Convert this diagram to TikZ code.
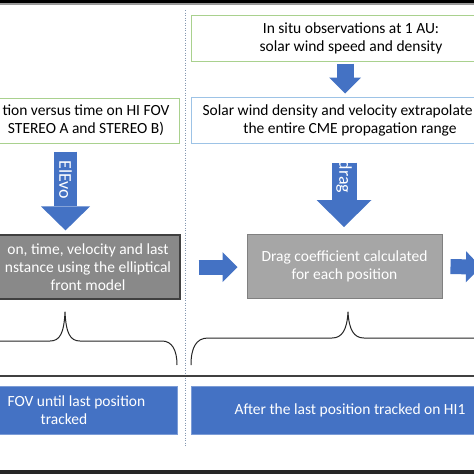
\documentclass[tikz,border=0pt]{standalone}
\usepackage{fontspec}
\setmainfont{Carlito}
\usetikzlibrary{arrows.meta,positioning,calc}
\definecolor{boxblue}{RGB}{68,114,196}
\definecolor{edgegreen}{RGB}{169,209,142}
\definecolor{edgeblue}{RGB}{157,195,230}
\definecolor{darkgrey}{RGB}{137,137,137}
\definecolor{lightgrey}{RGB}{166,166,166}
\definecolor{sepline}{RGB}{132,151,176}
\tikzset{
  txt/.style={font=\fontsize{15.5}{18}\selectfont, align=center, inner sep=0pt},
  greenbox/.style={txt, draw=edgegreen, line width=1pt, fill=white},
  bluebox/.style={txt, draw=edgeblue, line width=1pt, fill=white},
  greybox/.style={txt, text=white, fill=lightgrey, draw=black!50, line width=1pt},
  darkbox/.style={txt, text=white, fill=darkgrey, draw=black!75, line width=1.2pt},
  stagebox/.style={txt, text=white, fill=boxblue, draw=boxblue!70!white, line width=0.8pt},
  fatarrow/.style n args={3}{draw=boxblue, line width=#1,
    -{Triangle[length=#2, width=#3, line width=0pt]}},
  arrowlbl/.style={text=white, font=\fontsize{18}{18}\selectfont, inner sep=0pt, rotate=-90},
  bracepen/.style={black!85, line width=1pt, line join=round},
}
\begin{document}
\begin{tikzpicture}[x=1pt, y=-1pt]
    \useasboundingbox (0,0) rectangle (474,474);
    \fill[white] (0,0) rectangle (474,474);
    \clip (0,0) rectangle (474,474);
    % frame lines top and bottom
    \draw[black!40, line width=2pt] (0,4) -- (474,4);
    \draw[black, line width=3pt] (0,1.5) -- (474,1.5);
    \draw[black!85, line width=4.5pt] (0,472) -- (474,472);
    % separator between the two phases
    \draw[sepline, line width=0.8pt, dash pattern=on 1.2pt off 1.3pt] (185,10) -- (185,446);
    % input boxes
    \node[greenbox, minimum width=320pt, minimum height=46pt] (obs) at (351,38)
      {In situ observations at 1 AU:\\solar wind speed and density};
    \node[greenbox, minimum width=186pt, minimum height=45pt] (hifov) at (86,120.5)
      {tion versus time on HI FOV\\STEREO A and STEREO B)};
    \node[bluebox, minimum width=318pt, minimum height=46pt] (extrap) at (350,120)
      {Solar wind density and velocity extrapolate\hphantom{d to}\\the entire CME propagation range};
    % model boxes
    \node[darkbox, minimum width=184pt, minimum height=64pt] (elliptic) at (88,267)
      {on, time, velocity and last\\nstance using the elliptical\\front model};
    \node[greybox, minimum width=195pt, minimum height=64pt] (dragcoef) at (344.5,266.5)
      {Drag coefficient calculated\\for each position};
    \coordinate (offright) at (481,267);
    % block arrows
    \draw[fatarrow={17pt}{16pt}{32pt}, shorten <=2pt, shorten >=3pt]
      ([xshift=-6pt]obs.south) -- ([xshift=-6pt]obs.south |- extrap.north);
    \draw[fatarrow={23pt}{24pt}{49pt}, shorten <=8pt, shorten >=4pt]
      ([xshift=-20.5pt]hifov.south) -- ([xshift=-20.5pt]hifov.south |- elliptic.north)
      node[arrowlbl, pos=0.4] {ElEvo};
    \draw[fatarrow={25pt}{27pt}{55pt}, shorten <=19pt, shorten >=7pt]
      ([xshift=-6pt]extrap.south) -- ([xshift=-6pt]extrap.south |- dragcoef.north)
      node[arrowlbl, pos=0.37] {drag};
    \draw[fatarrow={15pt}{15pt}{30pt}, shorten <=18pt, shorten >=9pt]
      (elliptic.east) -- (elliptic.east -| dragcoef.west);
    \draw[fatarrow={15pt}{15pt}{31pt}, shorten <=8pt]
      (dragcoef.east) -- (offright);
    % braces over the two stages
    \draw[bracepen] (-40,341) -- (50,341) .. controls (60,341) and (64,333) .. (65,312)
      .. controls (66,333) and (70,341) .. (80,341) -- (162,341)
      .. controls (172,341) and (177,350) .. (177,365);
    \draw[bracepen] (191,365) .. controls (191,348) and (196,338) .. (208,338) -- (332,338)
      .. controls (342,338) and (347,330) .. (348,312)
      .. controls (349,330) and (354,338) .. (364,338) -- (480,338);
    \draw[black!75, line width=1.2pt] (0,376) -- (474,376);
    % stage boxes
    \node[stagebox, minimum width=226pt, minimum height=48pt] (fovblue) at (64,410)
      {\hphantom{HI1 }FOV until last position\\tracked};
    \node[stagebox, minimum width=318pt, minimum height=48pt] (afterblue) at (350,410)
      {After the last position tracked on HI1};
  \end{tikzpicture}
\end{document}
